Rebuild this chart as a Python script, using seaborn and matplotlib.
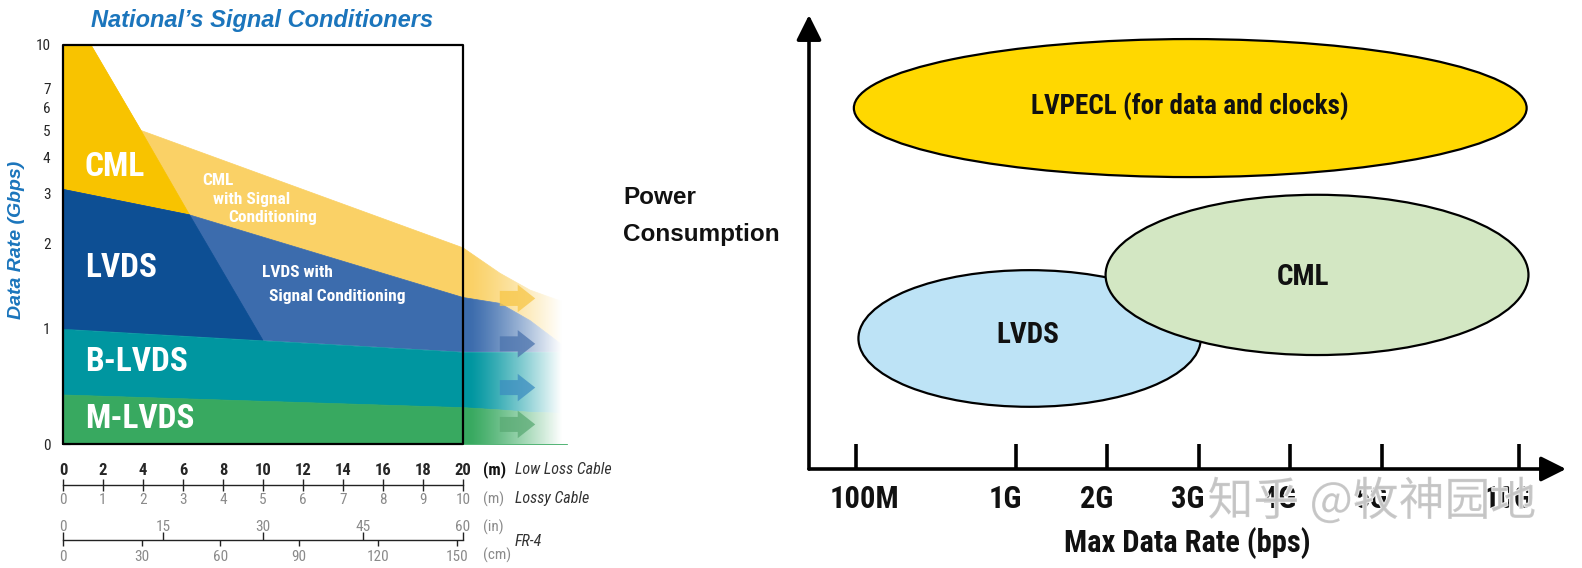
import numpy as np
import matplotlib
matplotlib.use("Agg")
import matplotlib.pyplot as plt
import matplotlib.patheffects as pe
import matplotlib.transforms as mtransforms
import seaborn as sns
from matplotlib.patches import Ellipse

# ---- left chart: data rate (Gbps) vs distance (m of low loss cable) ----
band_dist = [0, 20, 21.85, 23.35, 25.2]
mlvds_top = [0.43, 0.32, 0.30, 0.28, 0.27]
blvds_top = [1.0, 0.80, 0.80, 0.80, 0.80]
lvds_dist = [0, 6.33, 20, 21.85, 23.35, 25.2]
lvds_top = [3.1, 2.52, 1.29, 1.23, 1.07, 0.83]
cml_dist = [0, 1.4, 3.9, 20, 21.85, 23.35, 25.2]
cml_top = [10, 10, 5.0, 1.93, 1.57, 1.37, 1.23]

# where the plain CML / LVDS areas end (signal conditioning beyond)
cml_edge_dist = [1.4, 3.9, 6.33]
cml_edge_rate = [10, 5.0, 2.52]
lvds_edge_dist = [6.33, 10.0]
lvds_edge_rate = [2.52, 0.90]

arrow_rates = [1.28, 0.87, 0.49, 0.17]
arrow_colors = ["#f7c646", "#4b73ad", "#3c8dc0", "#5aaa74"]

rate_ticks = [0, 1, 2, 3, 4, 5, 6, 7, 8, 9, 10]
rate_ticklabels = ["0", "1", "2", "3", "4", "5", "6", "7", "", "", "10"]
low_loss_ticks = [0, 2, 4, 6, 8, 10, 12, 14, 16, 18, 20]
lossy_ticks = [0, 1, 2, 3, 4, 5, 6, 7, 8, 9, 10]
fr4_in_ticks = [0, 15, 30, 45, 60]
fr4_cm_ticks = [0, 30, 60, 90, 120, 150]

# ---- right chart: power vs max data rate ----
rate_labels = ["100M", "1G", "2G", "3G", "4G", "5G", "10G"]
rate_pos = [0, 1.75, 2.75, 3.75, 4.75, 5.75, 7.25]
families = ["LVPECL (for data and clocks)", "LVDS", "CML"]
fam_rate_lo = [-0.02, 0.03, 2.73]
fam_rate_hi = [7.33, 3.77, 7.35]
fam_power_lo = [6.43, 1.37, 2.51]
fam_power_hi = [9.47, 4.38, 6.04]
fam_label_rate = [3.65, 1.88, 4.89]
fam_label_power = [7.98, 2.95, 4.23]
fam_colors = ["#ffd800", "#bde3f6", "#d3e7c3"]

sns.set_theme(style="white")
plt.rcParams["font.family"] = ["Liberation Sans", "DejaVu Sans"]
NARROW = ["Roboto Condensed", "Fira Sans Condensed", "Liberation Sans", "DejaVu Sans"]
BLUE = "#1b75bc"

W, H = 1582, 568
fig = plt.figure(figsize=(W / 100, H / 100), dpi=100)


def fx(x):
    return x / W


def fy(y):
    return 1 - y / H


# =========================================================================
# LEFT CHART
# =========================================================================
ax = fig.add_axes([fx(63), fy(444), fx(510), (444 - 45) / H])
ax.set_yscale("symlog", linthresh=1, linscale=0.365)

ax.fill(np.r_[cml_dist, lvds_dist[::-1]], np.r_[cml_top, lvds_top[::-1]],
        color="#fad166", lw=0.5, zorder=1)
ax.fill([0, 0] + cml_edge_dist, [lvds_top[0], cml_top[0]] + cml_edge_rate,
        color="#f8c300", lw=0.5, zorder=1)
ax.fill(np.r_[lvds_dist, band_dist[::-1]], np.r_[lvds_top, blvds_top[::-1]],
        color="#3c6cad", lw=0.5, zorder=1)
ax.fill([0, 0] + lvds_edge_dist, [blvds_top[0], lvds_top[0]] + lvds_edge_rate,
        color="#0d4f94", lw=0.5, zorder=1)
ax.fill_between(band_dist, mlvds_top, blvds_top, color="#0096a0", lw=0.5, zorder=1)
ax.fill_between(band_dist, 0, mlvds_top, color="#38a960", lw=0.5, zorder=1)

# fade out past 20 m
fade = np.ones((2, 256, 4))
ramp = np.clip((np.linspace(20, 25.5, 256) - 20.3) / 4.6, 0, 1) ** 1.2
fade[..., 3] = ramp
ax.imshow(fade, extent=(20, 25.5, 0, 10), aspect="auto", zorder=2,
          interpolation="bilinear")

for r, c in zip(arrow_rates, arrow_colors):
    ax.annotate("", xy=(23.75, r), xytext=(21.7, r),
                arrowprops=dict(arrowstyle="simple,head_length=0.7,head_width=1.1,tail_width=0.6",
                                mutation_scale=18, color=c, alpha=0.75, lw=0),
                zorder=3)

ax.plot([0, 20, 20, 0, 0], [0, 0, 10, 10, 0], color="black", lw=1.6, zorder=4,
        clip_on=False)

ax.set_xlim(0, 25.5)
ax.set_ylim(0, 10)
ax.set_xticks(range(0, 21))
ax.set_xticklabels([])
ax.set_yticks(rate_ticks)
ax.set_yticklabels(rate_ticklabels, family=NARROW, fontsize=11)
ax.yaxis.set_minor_locator(matplotlib.ticker.NullLocator())
ax.tick_params(axis="x", direction="in", length=6, width=0.8, color="black", bottom=True)
ax.tick_params(axis="y", direction="in", length=5, width=0.8, color="black", left=True,
               pad=9)
for s in ax.spines.values():
    s.set_visible(False)

band_labels = [("CML", 3.72), ("LVDS", 1.64), ("B-LVDS", 0.71), ("M-LVDS", 0.22)]
for txt, r in band_labels:
    ax.text(1.1, r, txt, family=NARROW, fontsize=24, fontweight="bold", color="white",
            va="center", ha="left", zorder=5)
small = dict(family=NARROW, fontsize=12.5, fontweight="bold", color="white", va="center",
             zorder=5)
ax.text(6.95, 3.32, "CML", **small)
ax.text(7.5, 2.86, "with Signal", **small)
ax.text(8.25, 2.47, "Conditioning", **small)
ax.text(9.95, 1.58, "LVDS with", **small)
ax.text(10.3, 1.3, "Signal Conditioning", **small)

fig.text(fx(262), fy(20), "National\u2019s Signal Conditioners", ha="center", va="center",
         fontsize=17, fontweight="bold", fontstyle="italic", color=BLUE)
fig.text(fx(17), fy(240), "Data Rate (Gbps)", rotation=90, ha="center", va="center",
         fontsize=14, fontweight="bold", fontstyle="italic", color=BLUE)

# distance scales
ax_m = fig.add_axes([fx(63), fy(485), fx(400), 0.0001])
ax_m.set_xlim(0, 20)
ax_m.set_yticks([])
ax_m.set_xticks(low_loss_ticks)
ax_m.set_xticklabels([str(t) for t in low_loss_ticks], family=NARROW, fontsize=12,
                     fontweight="bold")
ax_m.tick_params(axis="x", direction="inout", length=8, width=1, color="#222222",
                 bottom=True, top=False, labelbottom=False, labeltop=True, pad=1)
for k in ["top", "left", "right"]:
    ax_m.spines[k].set_visible(False)
ax_m.spines["bottom"].set_color("#222222")
ax_m.spines["bottom"].set_linewidth(1)
ax_m.patch.set_visible(False)
lossy = ax_m.secondary_xaxis("bottom", functions=(lambda x: x / 2, lambda x: x * 2))
lossy.set_xticks(lossy_ticks)
lossy.set_xticklabels([str(t) for t in lossy_ticks], family=NARROW, fontsize=11)
lossy.tick_params(length=0, pad=6, labelcolor="#8a8a8a")
lossy.spines["bottom"].set_visible(False)

ax_f = fig.add_axes([fx(63), fy(540), fx(400), 0.0001])
ax_f.set_xlim(0, 60)
ax_f.set_yticks([])
ax_f.set_xticks(fr4_in_ticks)
ax_f.set_xticklabels([str(t) for t in fr4_in_ticks], family=NARROW, fontsize=11)
ax_f.tick_params(axis="x", direction="in", length=6, width=1, color="#222222",
                 bottom=True, top=False, labelbottom=False, labeltop=True, pad=4,
                 labelcolor="#8a8a8a")
for k in ["top", "left", "right"]:
    ax_f.spines[k].set_visible(False)
ax_f.spines["bottom"].set_color("#222222")
ax_f.spines["bottom"].set_linewidth(1)
ax_f.patch.set_visible(False)
fr4_cm = ax_f.secondary_xaxis("bottom", functions=(lambda x: x * 2.54, lambda x: x / 2.54))
fr4_cm.set_xticks(fr4_cm_ticks)
fr4_cm.set_xticklabels([str(t) for t in fr4_cm_ticks], family=NARROW, fontsize=11)
fr4_cm.tick_params(direction="out", length=4, width=1, color="#222222", pad=3,
                   labelcolor="#8a8a8a")
fr4_cm.spines["bottom"].set_visible(False)

for txt, y, col, wt in [("(m)", 470, "#111111", "bold"), ("(m)", 499, "#8a8a8a", "normal"),
                        ("(in)", 527, "#8a8a8a", "normal"), ("(cm)", 555, "#8a8a8a", "normal")]:
    fig.text(fx(483), fy(y), txt, family=NARROW, fontsize=12 if wt == "bold" else 11,
             color=col, fontweight=wt, va="center")
for txt, y in [("Low Loss Cable", 470), ("Lossy Cable", 498), ("FR-4", 542)]:
    fig.text(fx(515), fy(y), txt, family=NARROW, fontsize=11.5, fontstyle="italic",
             color="#333333", va="center")

# =========================================================================
# RIGHT CHART
# =========================================================================
axr = fig.add_axes([fx(809), fy(469), fx(1566 - 809), (469 - 15) / H])
axr.set_xlim(-0.51, 7.76)
axr.set_ylim(0, 10)
for s in axr.spines.values():
    s.set_visible(False)

for name, lo, hi, plo, phi, lx, ly, c in zip(families, fam_rate_lo, fam_rate_hi,
                                             fam_power_lo, fam_power_hi,
                                             fam_label_rate, fam_label_power, fam_colors):
    axr.add_patch(Ellipse(((lo + hi) / 2, (plo + phi) / 2), hi - lo, phi - plo,
                          facecolor=c, edgecolor="black", lw=1.6))
    axr.text(lx, ly, name, family=NARROW,
             fontsize=19.5 if name.startswith("LVPECL") else 21,
             fontweight="bold", ha="center", va="center", color="#111111")

axr.annotate("", xy=(1, 0), xytext=(0, 0), xycoords="axes fraction",
             arrowprops=dict(arrowstyle="-|>", lw=2.6, mutation_scale=38, color="black",
                             shrinkA=0, shrinkB=0))
axr.annotate("", xy=(0, 1), xytext=(0, 0), xycoords="axes fraction",
             arrowprops=dict(arrowstyle="-|>", lw=2.6, mutation_scale=38, color="black",
                             shrinkA=0, shrinkB=0))

axr.set_xticks(rate_pos)
axr.set_xticklabels(rate_labels, family=NARROW, fontsize=22, fontweight="bold")
axr.set_yticks([])
axr.tick_params(axis="x", direction="in", length=18, width=2.6, color="black",
                bottom=True, pad=11, labelcolor="#111111")
axr.set_xlabel("Max Data Rate (bps)", family=NARROW, fontsize=22, fontweight="bold",
               labelpad=9, color="#111111")
# labels in the original sit a little off their tick marks
label_shift_px = [9, -11, -11, -11, -11, -11, -11]
for lbl, dx in zip(axr.get_xticklabels(), label_shift_px):
    lbl.set_transform(lbl.get_transform() +
                      mtransforms.ScaledTranslation(dx / 100, 0, fig.dpi_scale_trans))

fig.text(fx(623), fy(198), "Power", fontsize=17.5, fontweight="bold", va="center",
         color="#111111")
fig.text(fx(623), fy(234), "Consumption", fontsize=17.5, fontweight="bold", va="center",
         color="#111111")

fig.text(fx(1372), fy(502), "知乎 @牧神园地", family=["Noto Sans CJK SC", "DejaVu Sans"],
         fontsize=33, color="#c4c4c4", alpha=0.9, ha="center", va="center",
         path_effects=[pe.withStroke(linewidth=1.5, foreground="white")])

fig.savefig("out.png", dpi=100)
